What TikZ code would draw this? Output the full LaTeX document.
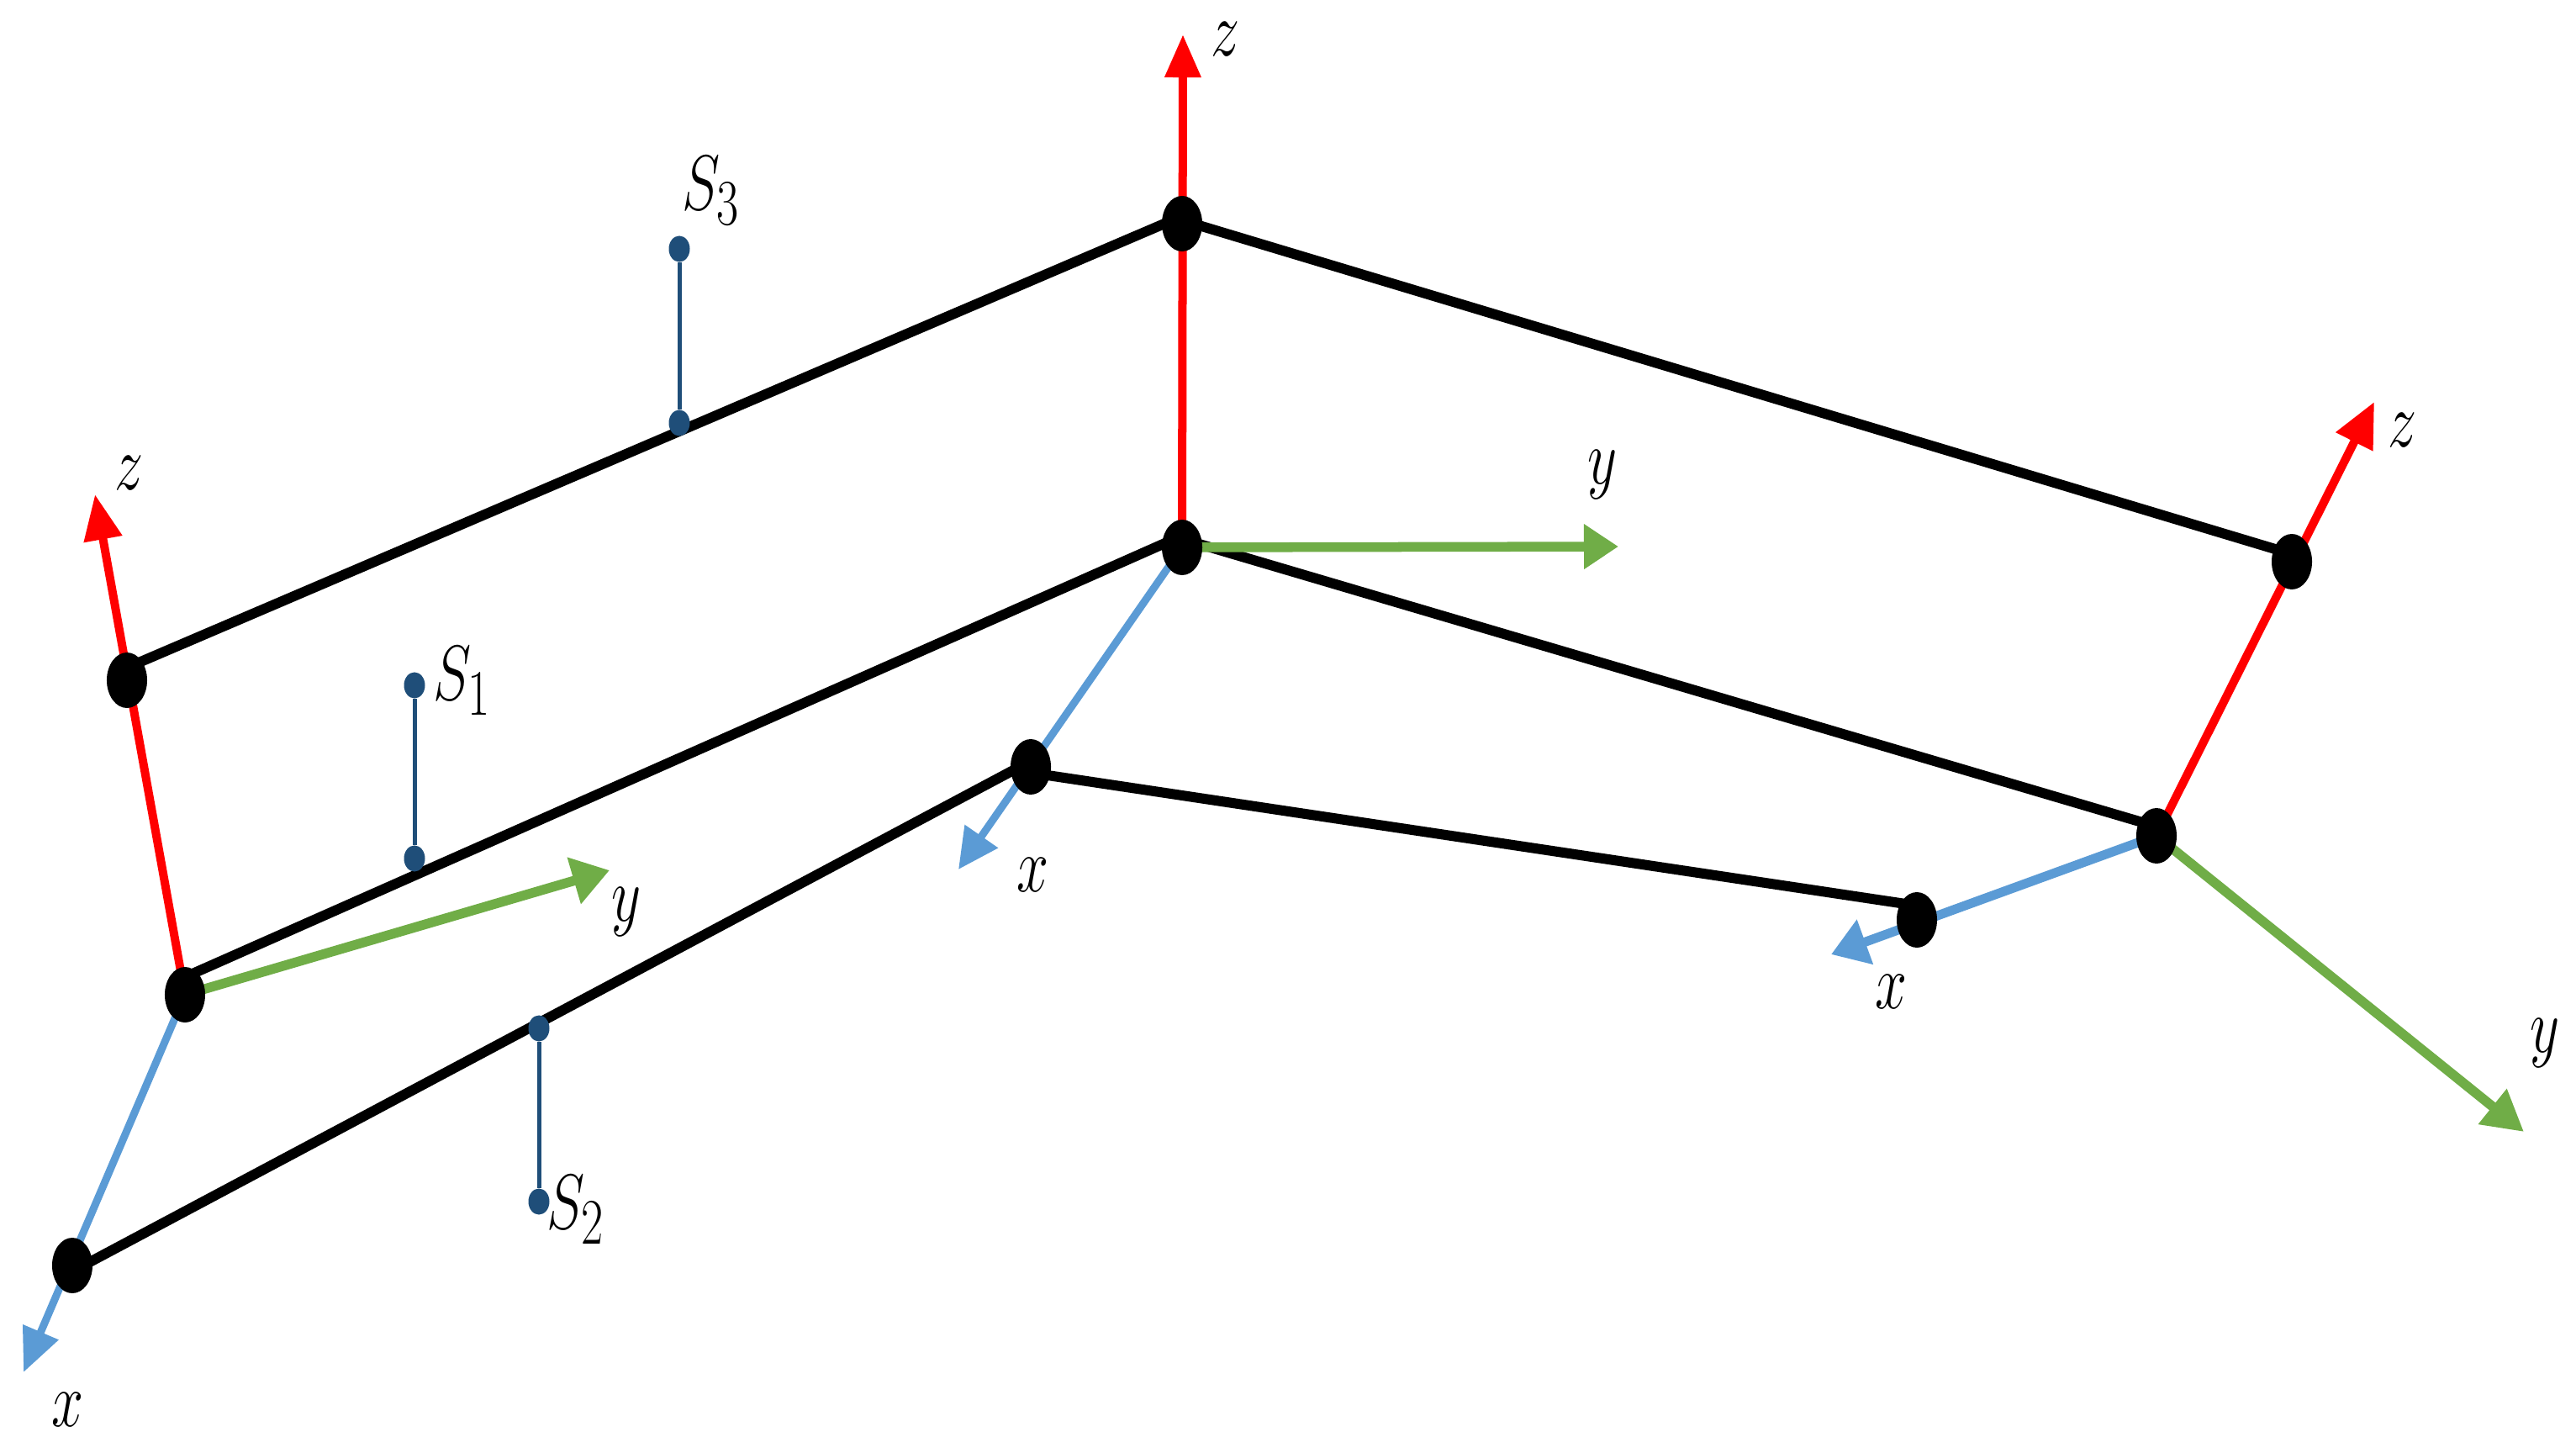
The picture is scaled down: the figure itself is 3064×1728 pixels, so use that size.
\documentclass[tikz,border=0pt]{standalone}
\usetikzlibrary{arrows.meta,shapes.geometric,backgrounds}
\definecolor{axisred}{HTML}{FF0000}
\definecolor{axisgreen}{HTML}{70AD47}
\definecolor{axisblue}{HTML}{5B9BD5}
\definecolor{sensorblue}{HTML}{1F4E79}
\tikzset{
  joint/.style={ellipse,fill=black,draw=none,inner sep=0pt,minimum width=0.48cm,minimum height=0.66cm},
  sensordot/.style={ellipse,fill=sensorblue,draw=none,inner sep=0pt,minimum width=0.25cm,minimum height=0.31cm},
  beam/.style={draw=black,line width=0.12cm},
  sensorline/.style={draw=sensorblue,line width=0.05cm},
  redaxis/.style={draw=axisred,line width=0.10cm},
  greenaxis/.style={draw=axisgreen,line width=0.115cm},
  blueaxis/.style={draw=axisblue,line width=0.09cm},
  redhead/.style 2 args={-{Triangle[length=#1,width=#2,fill=axisred]}},
  greenhead/.style 2 args={-{Triangle[length=#1,width=#2,fill=axisgreen]}},
  bluehead/.style 2 args={-{Triangle[length=#1,width=#2,fill=axisblue]}},
  lab/.style={inner sep=0pt,font=\fontsize{24.88}{30}\selectfont,xscale=.78,yscale=1.06,transform shape}
}
\begin{document}
\begin{tikzpicture}[x=0.01cm,y=-0.01cm]
\useasboundingbox (0,0) rectangle (3064,1728);
% joints
\path (151,809) node[joint] (H) {}
      (220,1183) node[joint] (A) {}
      (86,1505) node[joint] (B) {}
      (1406,266) node[joint] (C) {}
      (1406,651) node[joint] (D) {}
      (1226,912) node[joint] (I) {}
      (2726,668) node[joint] (E) {}
      (2565,994) node[joint] (F) {}
      (2280,1094) node[joint] (G) {};
% axis ends
\coordinate (zl) at (113,588);
\coordinate (xl) at (28,1632);
\coordinate (yl) at (725,1035);
\coordinate (zc) at (1407,41);
\coordinate (yc) at (1925,650);
\coordinate (xc) at (1140,1034);
\coordinate (zr) at (2824,478);
\coordinate (xr) at (2178,1135);
\coordinate (yr) at (3002,1346);
\begin{pgfonlayer}{background}
\draw[redaxis,redhead={0.54cm}{0.44cm}] (A.center) -- (zl);
\draw[redaxis,redhead={0.51cm}{0.41cm}] (D.center) -- (zc);
\draw[redaxis,redhead={0.53cm}{0.47cm}] (F.center) -- (zr);
\draw[blueaxis,bluehead={0.52cm}{0.44cm}] (A.center) -- (xl);
\draw[blueaxis,bluehead={0.48cm}{0.46cm}] (D.center) -- (xc);
\draw[blueaxis,line width=0.11cm,bluehead={0.43cm}{0.54cm}] (F.center) -- (xr);
\draw[beam] ([yshift=0.15cm]H.center) -- ([yshift=0.09cm]C.center);
\draw[beam] ([yshift=0.04cm]C.center) -- ([yshift=0.09cm]E.center);
\draw[beam] ([yshift=0.21cm]A.center) -- ([yshift=0.14cm]D.center);
\draw[beam] ([yshift=0.10cm]D.center) -- ([yshift=0.11cm]F.center);
\draw[beam] ([yshift=-0.07cm]B.center) -- ([yshift=0.07cm]I.center);
\draw[beam] ([yshift=-0.07cm]I.center) -- ([yshift=0.17cm]G.center);
\draw[greenaxis,greenhead={0.44cm}{0.55cm}] (A.center) -- (yl);
\draw[greenaxis,greenhead={0.41cm}{0.51cm}] (D.center) -- (yc);
\draw[greenaxis,greenhead={0.48cm}{0.51cm}] (F.center) -- (yr);
\end{pgfonlayer}
% sensors
\path (493,815) node[sensordot] (s1t) {}
      (493,1021) node[sensordot] (s1b) {}
      (641,1223) node[sensordot] (s2t) {}
      (641,1429) node[sensordot] (s2b) {}
      (808,296) node[sensordot] (s3t) {}
      (808,503) node[sensordot] (s3b) {};
\draw[sensorline] (s1t) -- (s1b);
\draw[sensorline] (s2t) -- (s2b);
\draw[sensorline] (s3t) -- (s3b);
% labels
\node[lab] (lz1) at (154,563) {$z$};
\node[lab] (lx1) at (80,1677) {$x$};
\node[lab] (ly1) at (745,1085) {$y$};
\node[lab] (lz2) at (1458,47) {$z$};
\node[lab] (ly2) at (1906,565) {$y$};
\node[lab] (lx2) at (1228,1041) {$x$};
\node[lab] (lz3) at (2857,512) {$z$};
\node[lab] (lx3) at (2249,1180) {$x$};
\node[lab] (ly3) at (3027,1241) {$y$};
\node[lab] (ls1) at (550,810) {$S_1$};
\node[lab] (ls2) at (685,1439) {$S_2$};
\node[lab] (ls3) at (846,227) {$S_3$};
\end{tikzpicture}
\end{document}
